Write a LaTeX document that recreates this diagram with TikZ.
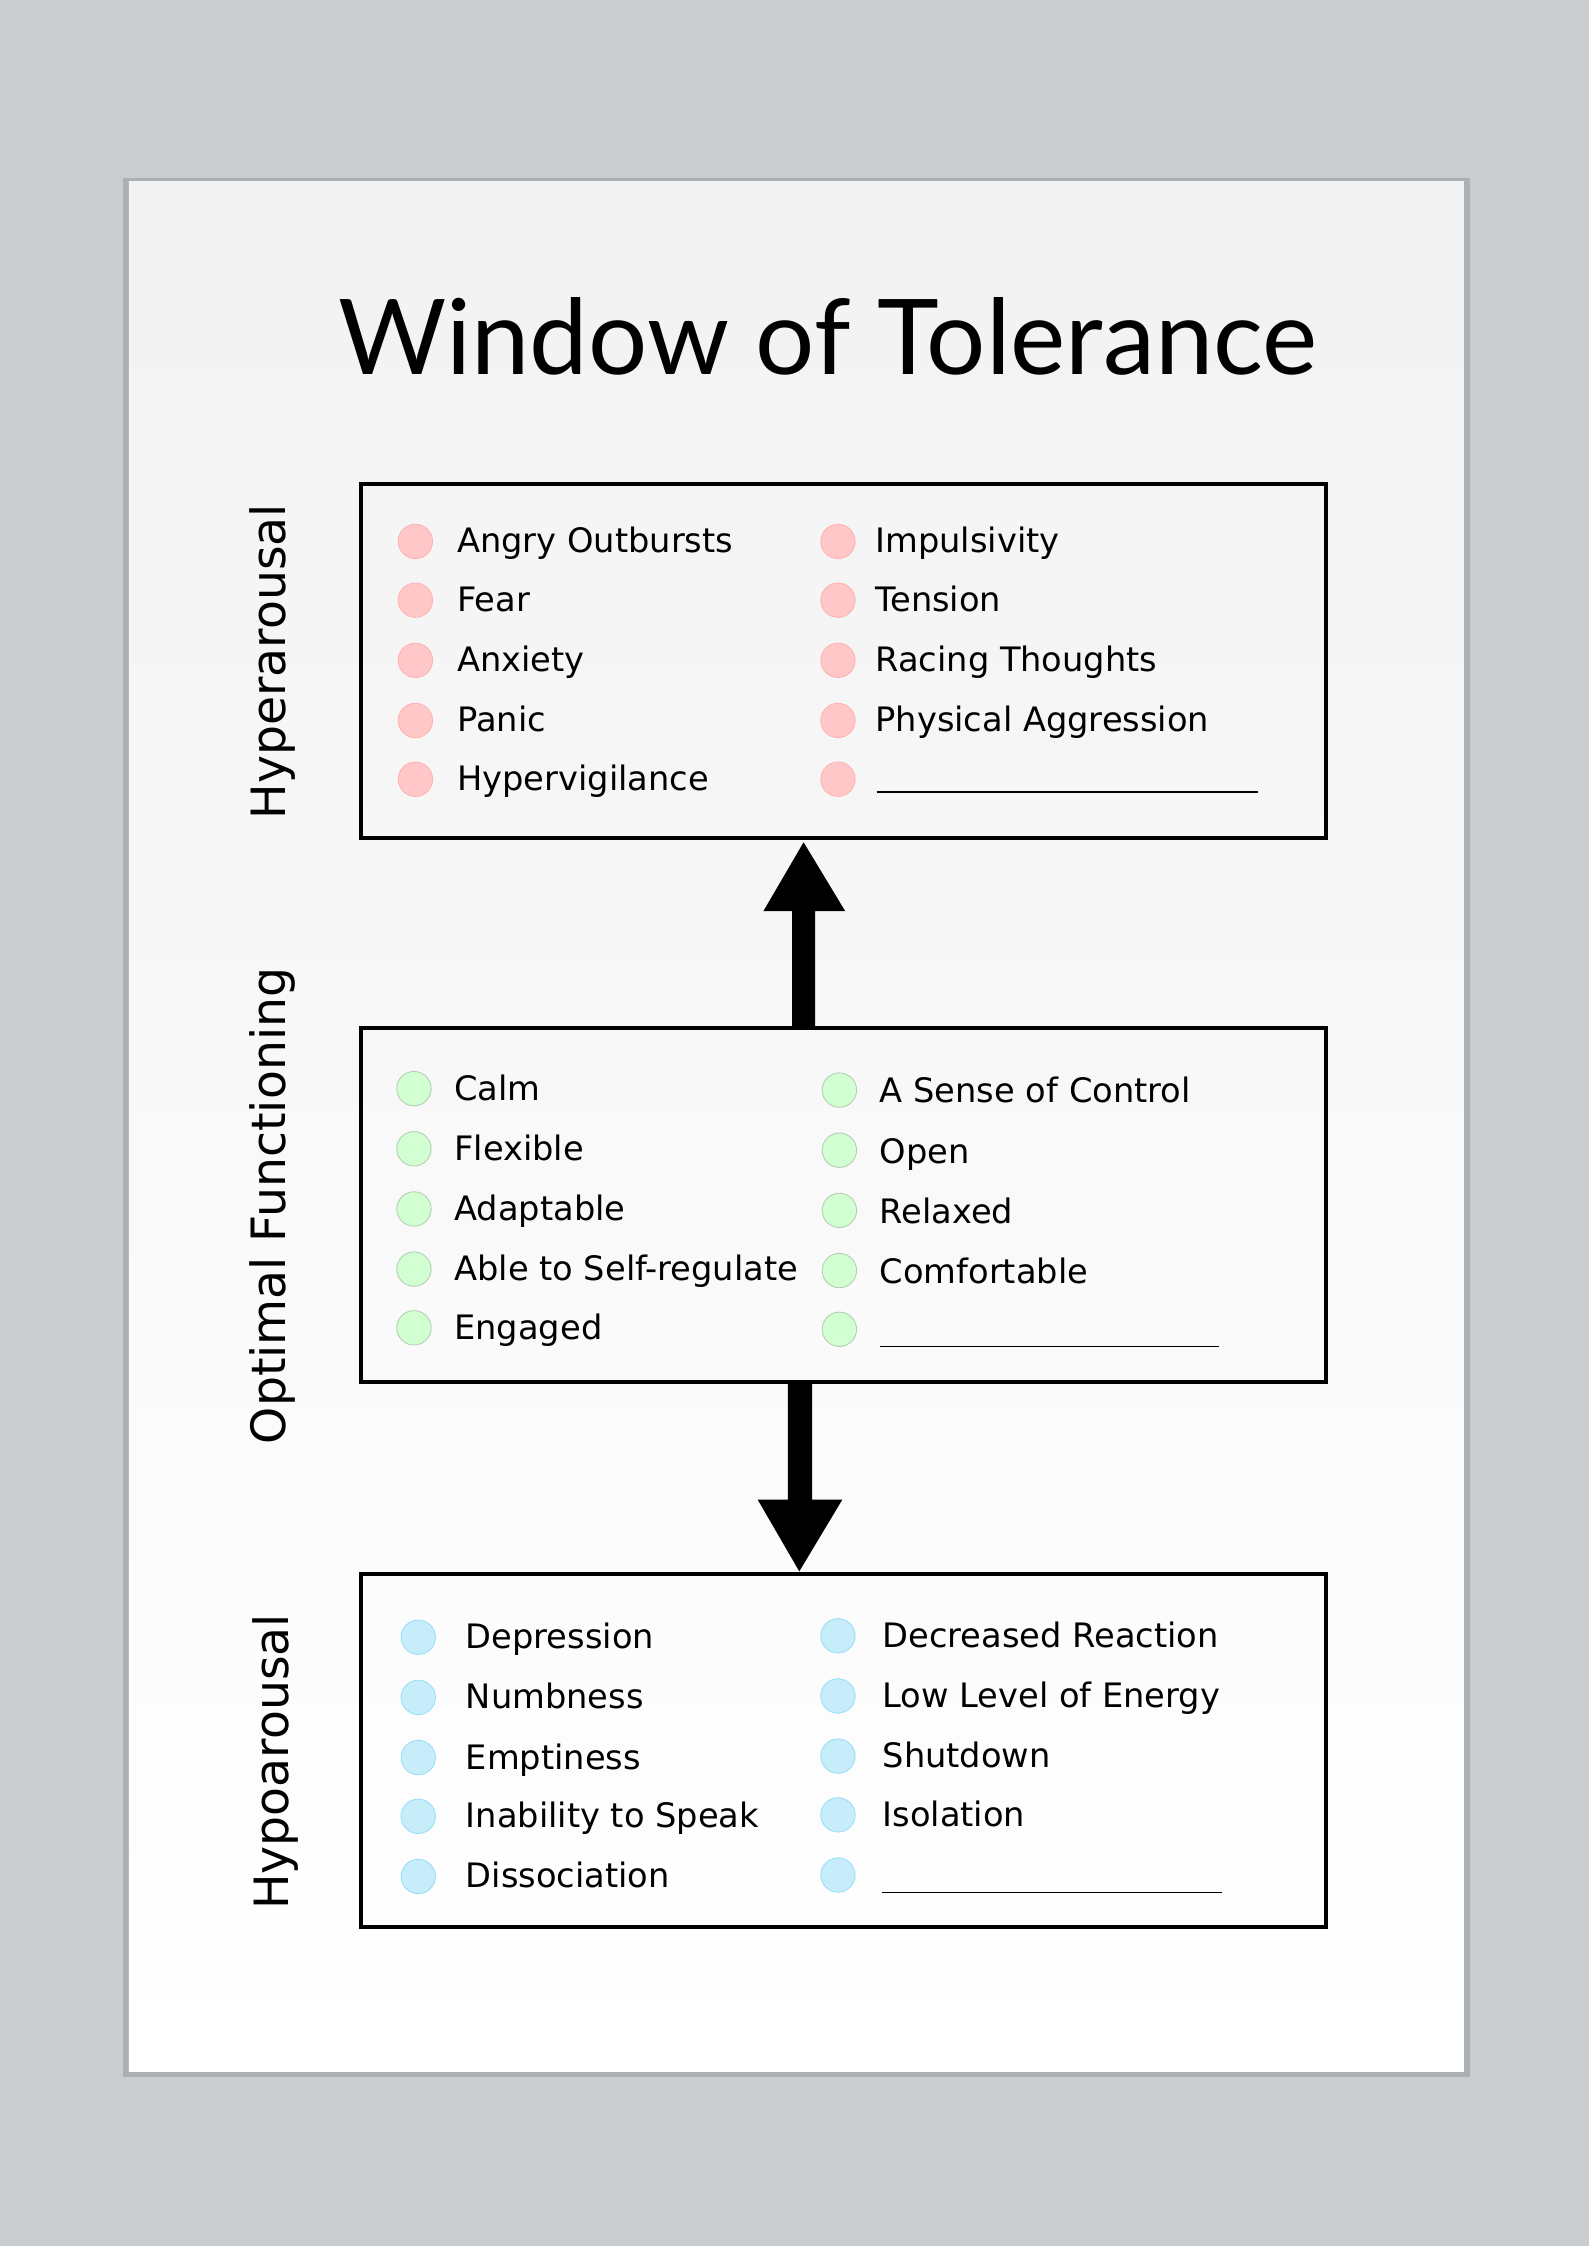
\documentclass[tikz,border=0pt]{standalone}
\usepackage{fontspec}
\setmainfont{DejaVu Sans}
\newfontfamily\titlefont{Lato}
\definecolor{bg}{HTML}{C9CDD0}
\begin{document}
\begin{tikzpicture}[x=1pt,y=-1pt,
  box/.style={draw=black,line width=2.8pt},
  item/.style={anchor=base west,font=\fontsize{23.5}{26}\selectfont,inner sep=0pt},
  side/.style={rotate=90,font=\fontsize{33}{36}\selectfont},
  bul/.style={circle,minimum size=24pt,inner sep=0pt,line width=0.6pt}]
\useasboundingbox (0,0) rectangle (1109,1568);
\fill[bg] (0,0) rectangle (1109,1568);
\fill[black!14!bg] (86,124) rectangle (1026,1450);
\shade[top color=black!5,bottom color=white] (90,127) rectangle (1022,1446);
\node[font=\titlefont\fontsize{73}{78}\selectfont] (title) at (578,235) {Window of Tolerance};
\draw[box] (252,338) rectangle (926,585);
\draw[box] (252,718) rectangle (926,965);
\draw[box] (252,1099) rectangle (926,1345);
\node[side] (s1) at (190,462) {Hyperarousal};
\node[side] (s2) at (190,842) {Optimal Functioning};
\node[side] (s3) at (192,1230) {Hypoarousal};
% arrows
\fill[black] (553,718) -- (553,636) -- (533,636) -- (561,588) -- (590,636) -- (569,636) -- (569,718) -- cycle;
\fill[black] (550,965) -- (550,1047) -- (529,1047) -- (558,1097) -- (588,1047) -- (567,1047) -- (567,965) -- cycle;
% box 1
\foreach \y/\a/\b [count=\i] in {378/Angry Outbursts/Impulsivity,419/Fear/Tension,461/Anxiety/Racing Thoughts,503/Panic/Physical Aggression,544/Hypervigilance/}{
  \node[bul,fill=red!22,draw=red!30] (pl\i) at (290,\y) {};
  \node[bul,fill=red!22,draw=red!30] (pr\i) at (585,\y) {};
  \node[item] (tl\i) at (319,\y+8) {\a};
  \node[item] (tr\i) at (611,\y+8) {\b};
}
\draw[line width=1pt] (612,553) -- (878,553);
% box 2
\foreach \y/\a/\b [count=\i] in {760/Calm/A Sense of Control,802/Flexible/Open,844/Adaptable/Relaxed,886/Able to Self-regulate/Comfortable,927/Engaged/}{
  \node[bul,fill=green!18,draw=green!35!black!30] (gl\i) at (289,\y) {};
  \node[bul,fill=green!18,draw=green!35!black!30] (gr\i) at (586,\y+1) {};
  \node[item] (ul\i) at (317,\y+8) {\a};
  \node[item] (ur\i) at (614,\y+10) {\b};
}
\draw[line width=1pt] (614,940) -- (851,940);
% box 3
\foreach \y/\a/\b [count=\i] in {1143/Depression/Decreased Reaction,1185/Numbness/Low Level of Energy,1227/Emptiness/Shutdown,1268/Inability to Speak/Isolation,1310/Dissociation/}{
  \node[bul,fill=cyan!22,draw=cyan!40] (cl\i) at (292,\y) {};
  \node[bul,fill=cyan!22,draw=cyan!40] (cr\i) at (585,\y-1) {};
  \node[item] (vl\i) at (325,\y+8) {\a};
  \node[item] (vr\i) at (616,\y+7) {\b};
}
\draw[line width=1pt] (616,1321) -- (853,1321);
\end{tikzpicture}
\end{document}
